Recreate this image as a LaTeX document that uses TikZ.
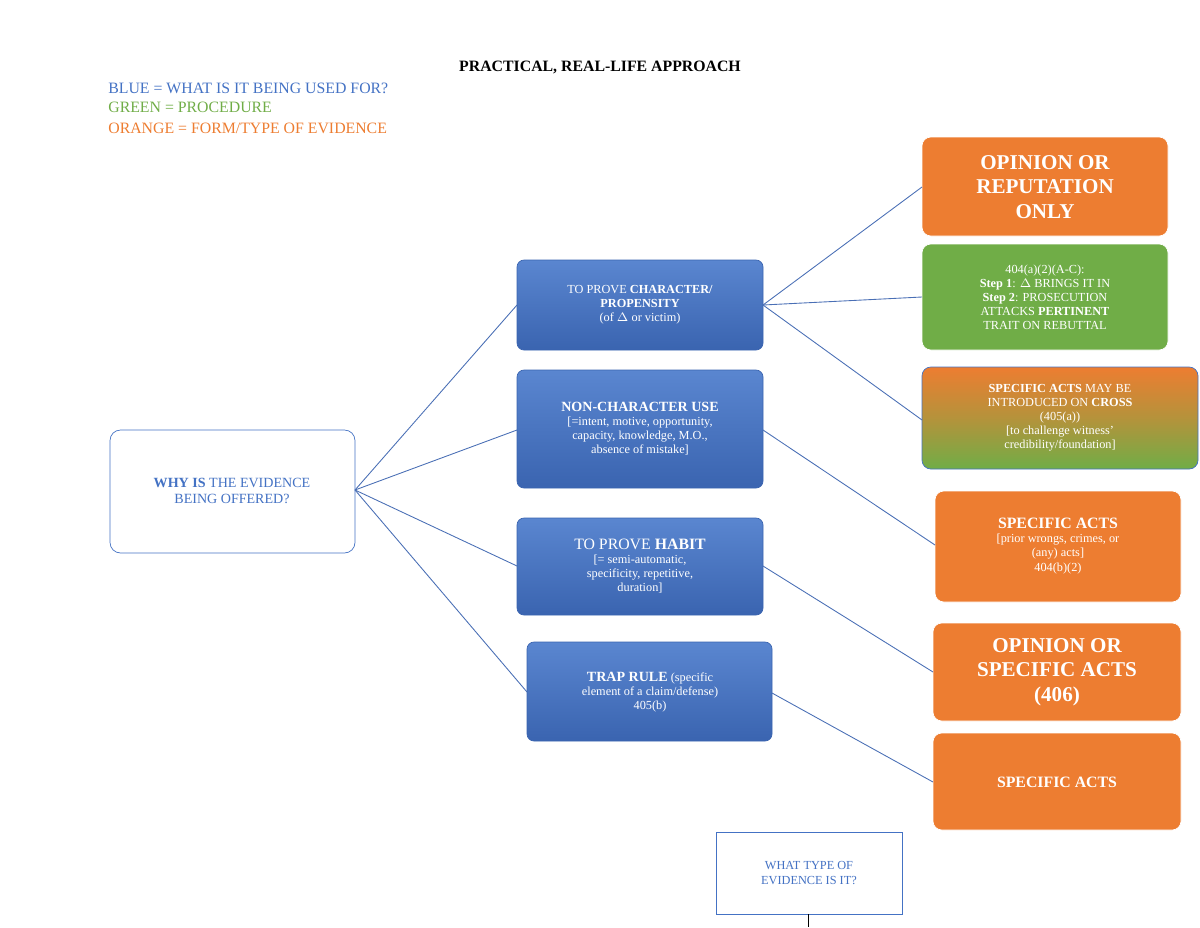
\documentclass[tikz,border=0pt]{standalone}
\usepackage{fontspec}
\setmainfont{Liberation Serif}
\usetikzlibrary{shadings}
\definecolor{bl}{HTML}{4472C4}
\definecolor{bld}{HTML}{3A64B0}
\definecolor{blt}{HTML}{5A86D0}
\definecolor{orn}{HTML}{ED7D31}
\definecolor{grn}{HTML}{70AD47}
\definecolor{lne}{HTML}{4A6FB5}
\begin{document}
\begin{tikzpicture}[x=0.02cm,y=-0.02cm,
  bbox/.style={draw=bld,rounded corners=4pt,top color=blt,bottom color=bld,text=white,align=center,font=\footnotesize,inner sep=2pt},
  obox/.style={draw=white,rounded corners=5pt,fill=orn,text=white,align=center,font=\footnotesize,inner sep=2pt},
  wbox/.style={draw=bl,fill=white,text=bl,align=center,font=\footnotesize},
  conn/.style={draw=lne,line width=0.5pt}]
\useasboundingbox (0,0) rectangle (1200,927);
\node[font=\small\bfseries] (title) at (600,67) {PRACTICAL, REAL-LIFE APPROACH};
\node[anchor=west,text=bl,font=\small,inner sep=0] (l1) at (108,88) {BLUE = WHAT IS IT BEING USED FOR?};
\node[anchor=west,text=grn,font=\small,inner sep=0] (l2) at (108,107) {GREEN = PROCEDURE};
\node[anchor=west,text=orn,font=\small,inner sep=0] (l3) at (108,128) {ORANGE = FORM/TYPE OF EVIDENCE};

\node[wbox,rounded corners=6pt,minimum width=245\pgflinewidth,text width=4.3cm] (why) at (232,491) {};
\path[draw=bl,rounded corners=6pt,fill=white] (110,430) rectangle (355,553);
\node[text=bl,align=center,font=\footnotesize] (whyt) at (232,491) {\textbf{WHY IS} THE EVIDENCE\\BEING OFFERED?};
\coordinate (whyR) at (355,490);

\path[bbox] (517,260) rectangle (763,350); \node[text=white,align=center,font=\scriptsize] (A) at (640,305) {TO PROVE \textbf{CHARACTER/}\\\textbf{PROPENSITY}\\(of $\Delta$ or victim)};
\path[bbox] (517,370) rectangle (763,488); \node[text=white,align=center,font=\scriptsize] (B) at (640,429) {\textbf{\footnotesize NON-CHARACTER USE}\\{}[=intent, motive, opportunity,\\capacity, knowledge, M.O.,\\absence of mistake]};
\path[bbox] (517,518) rectangle (763,615); \node[text=white,align=center,font=\scriptsize] (C) at (640,566) {{\small TO PROVE \textbf{HABIT}}\\{}[= semi-automatic,\\specificity, repetitive,\\duration]};
\path[bbox] (527,642) rectangle (772,741); \node[text=white,align=center,font=\scriptsize] (D) at (650,692) {\textbf{\footnotesize TRAP RULE} (specific\\element of a claim/defense)\\405(b)};
\coordinate (Al) at (517,305); \coordinate (Ar) at (763,305);
\coordinate (Bl) at (517,430); \coordinate (Br) at (763,430);
\coordinate (Cl) at (517,566); \coordinate (Cr) at (763,566);
\coordinate (Dl) at (527,692); \coordinate (Dr) at (772,693);

\path[obox] (922,137) rectangle (1168,236); \node[text=white,align=center,font=\large\bfseries] (O1) at (1045,187) {OPINION OR\\REPUTATION\\ONLY};
\path[draw=white,rounded corners=5pt,fill=grn] (922,244) rectangle (1168,350); \node[text=white,align=center,font=\scriptsize,inner sep=0] (G) at (1045,297) {404(a)(2)(A-C):\\\textbf{Step 1}: $\Delta$ BRINGS IT IN\\\textbf{Step 2}: PROSECUTION\\ATTACKS \textbf{PERTINENT}\\TRAIT ON REBUTTAL};
\path[draw=bl,rounded corners=5pt,top color=orn,bottom color=grn,middle color=orn!55!grn] (922,367) rectangle (1198,469); \node[text=white,align=center,font=\scriptsize,inner sep=0] (M) at (1060,418) {\textbf{SPECIFIC ACTS} MAY BE\\INTRODUCED ON \textbf{CROSS}\\(405(a))\\{}[to challenge witness'\\credibility/foundation]};
\path[obox] (935,491) rectangle (1181,602); \node[text=white,align=center,font=\scriptsize] (S1) at (1058,546) {{\small\bfseries SPECIFIC ACTS}\\{}[prior wrongs, crimes, or\\(any) acts]\\404(b)(2)};
\path[obox] (933,623) rectangle (1181,721); \node[text=white,align=center,font=\large\bfseries] (S2) at (1057,672) {OPINION OR\\SPECIFIC ACTS\\(406)};
\path[obox] (933,733) rectangle (1181,830); \node[text=white,font=\small\bfseries] (S3) at (1057,782) {SPECIFIC ACTS};
\coordinate (O1l) at (922,187); \coordinate (Gl) at (922,297); \coordinate (Ml) at (922,420);
\coordinate (S1l) at (935,545); \coordinate (S2l) at (933,672); \coordinate (S3l) at (933,782);

\path[draw=bl,fill=white] (716,832) rectangle (902,914); \node[text=bl,align=center,font=\scriptsize] (W) at (809,873) {WHAT TYPE OF\\EVIDENCE IS IT?};
\coordinate (Wb) at (808,914); \coordinate (We) at (808,927);

\draw[conn] (whyR) -- (Al); \draw[conn] (whyR) -- (Bl); \draw[conn] (whyR) -- (Cl); \draw[conn] (whyR) -- (Dl);
\draw[conn] (Ar) -- (O1l); \draw[conn] (Ar) -- (Gl); \draw[conn] (Ar) -- (Ml);
\draw[conn] (Br) -- (S1l); \draw[conn] (Cr) -- (S2l); \draw[conn] (Dr) -- (S3l);
\draw[conn,draw=black] (Wb) -- (We);
\end{tikzpicture}
\end{document}
